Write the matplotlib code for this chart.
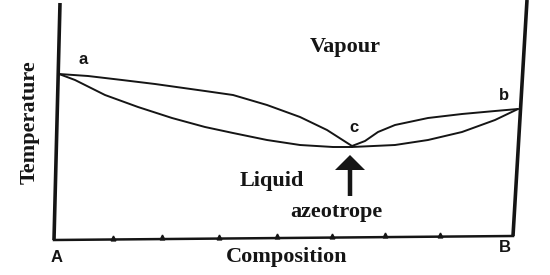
import matplotlib
matplotlib.use("Agg")
import matplotlib.pyplot as plt

# Schematic boiling-point diagram (pixel-like coordinates: x = composition, y = temperature, y grows downward)
vapour_left_x = [59, 88, 122, 155, 205, 233, 267, 300, 327, 352]
vapour_left_y = [74, 76, 80, 84, 91, 95, 105, 117, 130, 146]
liquid_left_x = [59, 75, 105, 138, 172, 205, 233, 267, 300, 333, 352]
liquid_left_y = [74, 80, 95, 107, 118, 127, 133, 140, 145, 147, 147]
vapour_right_x = [352, 365, 378, 395, 428, 462, 495, 518]
vapour_right_y = [146, 141, 132, 125, 118, 114, 111, 109]
liquid_right_x = [352, 395, 428, 462, 495, 518]
liquid_right_y = [147, 145, 140, 132, 120, 109]

tick_x = [113, 162, 219, 277, 332, 385, 440]
tick_y = [239.5, 239, 238.5, 238, 237.5, 237, 236.5]

left_axis_x = [60, 54]
left_axis_y = [3, 240]
right_axis_x = [527, 513]
right_axis_y = [0, 236]
bottom_axis_x = [54, 513]
bottom_axis_y = [240, 236]

serif = ['Liberation Serif', 'DejaVu Serif']
sans = ['Liberation Sans', 'DejaVu Sans']
ink = '#151515'

fig = plt.figure(figsize=(5.5, 2.75), dpi=100)
ax = fig.add_axes([0, 0, 1, 1])
ax.set_xlim(0, 550)
ax.set_ylim(275, 0)
ax.axis('off')

ax.plot(left_axis_x, left_axis_y, color=ink, lw=2.6, solid_capstyle='butt')
ax.plot(right_axis_x, right_axis_y, color=ink, lw=2.6, solid_capstyle='butt')
ax.plot(bottom_axis_x, bottom_axis_y, color=ink, lw=1.8)

for xs, ys in [(vapour_left_x, vapour_left_y), (liquid_left_x, liquid_left_y),
               (vapour_right_x, vapour_right_y), (liquid_right_x, liquid_right_y)]:
    ax.plot(xs, ys, color=ink, lw=1.4, solid_joinstyle='round', solid_capstyle='round')

ax.plot(tick_x, [y - 2 for y in tick_y], linestyle='none', marker='^', ms=3.5, color=ink)

ax.arrow(350, 196, 0, -41, width=4.5, head_width=30, head_length=15,
         length_includes_head=True, color=ink, lw=0)

ax.text(345, 47, 'Vapour', family=serif, weight='bold', fontsize=16, ha='center', va='center', color=ink)
ax.text(272, 181, 'Liquid', family=serif, weight='bold', fontsize=16, ha='center', va='center', color=ink)
ax.text(336, 212, 'azeotrope', family=serif, weight='bold', fontsize=16, ha='center', va='center', color=ink)
ax.text(287, 257, 'Composition', family=serif, weight='bold', fontsize=16, ha='center', va='center', color=ink)
ax.text(30, 122, 'Temperature', family=serif, weight='bold', fontsize=16, ha='center', va='center',
        rotation=90, color=ink)

ax.text(83, 60, 'a', family=sans, weight='bold', fontsize=12, ha='center', va='center', color=ink)
ax.text(504, 96, 'b', family=sans, weight='bold', fontsize=12, ha='center', va='center', color=ink)
ax.text(354, 128, 'c', family=sans, weight='bold', fontsize=12, ha='center', va='center', color=ink)
ax.text(57, 258, 'A', family=sans, weight='bold', fontsize=12, ha='center', va='center', color=ink)
ax.text(505, 248, 'B', family=sans, weight='bold', fontsize=12, ha='center', va='center', color=ink)

fig.savefig('out.png', dpi=100)
